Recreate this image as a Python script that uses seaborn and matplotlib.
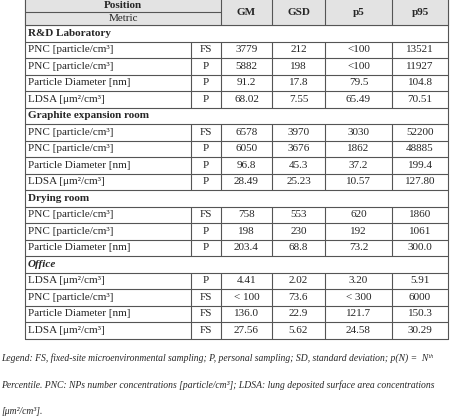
import matplotlib
matplotlib.use("Agg")
import matplotlib.pyplot as plt
import seaborn as sns

sns.set_theme(style="white")
plt.rcParams['font.family'] = ['Liberation Serif', 'DejaVu Serif']

columns = ["GM", "GSD", "p5", "p95"]
sections = ["R&D Laboratory", "Graphite expansion room", "Drying room", "Office"]
metrics = [
    ["PNC [particle/cm³]", "PNC [particle/cm³]", "Particle Diameter [nm]", "LDSA [\u03bcm²/cm³]"],
    ["PNC [particle/cm³]", "PNC [particle/cm³]", "Particle Diameter [nm]", "LDSA [\u03bcm²/cm³]"],
    ["PNC [particle/cm³]", "PNC [particle/cm³]", "Particle Diameter [nm]"],
    ["LDSA [\u03bcm²/cm³]", "PNC [particle/cm³]", "Particle Diameter [nm]", "LDSA [\u03bcm²/cm³]"],
]
sampling = [["FS", "P", "P", "P"], ["FS", "P", "P", "P"], ["FS", "P", "P"], ["P", "FS", "FS", "FS"]]
values = [
    [["3779", "212", "<100", "13521"], ["5882", "198", "<100", "11927"],
     ["91.2", "17.8", "79.5", "104.8"], ["68.02", "7.55", "65.49", "70.51"]],
    [["6578", "3970", "3030", "52200"], ["6050", "3676", "1862", "48885"],
     ["96.8", "45.3", "37.2", "199.4"], ["28.49", "25.23", "10.57", "127.80"]],
    [["758", "553", "620", "1860"], ["198", "230", "192", "1061"],
     ["203.4", "68.8", "73.2", "300.0"]],
    [["4.41", "2.02", "3.20", "5.91"], ["< 100", "73.6", "< 300", "6000"],
     ["136.0", "22.9", "121.7", "150.3"], ["27.56", "5.62", "24.58", "30.29"]],
]
legend_lines = [
    "Legend: FS, fixed-site microenvironmental sampling; P, personal sampling; SD, standard deviation; p(N) =  Nᵗʰ",
    "Percentile. PNC: NPs number concentrations [particle/cm³]; LDSA: lung deposited surface area concentrations",
    "[\u03bcm²/cm³].",
]

fig = plt.figure(figsize=(4.74, 4.17), dpi=100)
ax = fig.add_axes([0, 0, 1, 1])
ax.set_xlim(0, 474)
ax.set_ylim(417, 0)
ax.axis("off")

xs = [25, 191, 221, 272, 325, 392, 448]
top, hdr = -1, 25
pitch = 16.5
lc = "#555555"
fs = 8

# header
ax.add_patch(plt.Rectangle((xs[0], top), xs[-1] - xs[0], hdr - top, color="#e3e3e3", zorder=0))
ax.text((xs[0] + xs[2]) / 2, 5.5, "Position", ha="center", va="center", fontsize=fs, weight="bold")
ax.text((xs[0] + xs[2]) / 2, 18.5, "Metric", ha="center", va="center", fontsize=fs)
ax.plot([xs[0], xs[2]], [12, 12], color=lc, lw=0.8)
for i, c in enumerate(columns):
    ax.text((xs[i + 2] + xs[i + 3]) / 2, 12, c, ha="center", va="center", fontsize=fs, weight="bold")
for x in [xs[0]] + xs[2:]:
    ax.plot([x, x], [top, hdr], color=lc, lw=0.8)

y = hdr
for s, sec in enumerate(sections):
    ax.plot([xs[0], xs[-1]], [y, y], color=lc, lw=0.8)
    ax.plot([xs[0], xs[0]], [y, y + pitch], color=lc, lw=0.8)
    ax.plot([xs[-1], xs[-1]], [y, y + pitch], color=lc, lw=0.8)
    ax.text(xs[0] + 3, y + pitch / 2, sec, ha="left", va="center", fontsize=fs, weight="bold",
            style="italic" if sec == "Office" else "normal")
    y += pitch
    for r, m in enumerate(metrics[s]):
        ax.plot([xs[0], xs[-1]], [y, y], color=lc, lw=0.8)
        for x in xs:
            ax.plot([x, x], [y, y + pitch], color=lc, lw=0.8)
        cy = y + pitch / 2
        ax.text(xs[0] + 3, cy, m, ha="left", va="center", fontsize=fs)
        ax.text((xs[1] + xs[2]) / 2, cy, sampling[s][r], ha="center", va="center", fontsize=fs)
        for i, v in enumerate(values[s][r]):
            ax.text((xs[i + 2] + xs[i + 3]) / 2, cy, v, ha="center", va="center", fontsize=fs)
        y += pitch
ax.plot([xs[0], xs[-1]], [y, y], color=lc, lw=0.8)

for i, line in enumerate(legend_lines):
    ax.text(1, 358 + i * 27, line, ha="left", va="center", fontsize=6.9, style="italic")

fig.savefig("out.png", dpi=100)
